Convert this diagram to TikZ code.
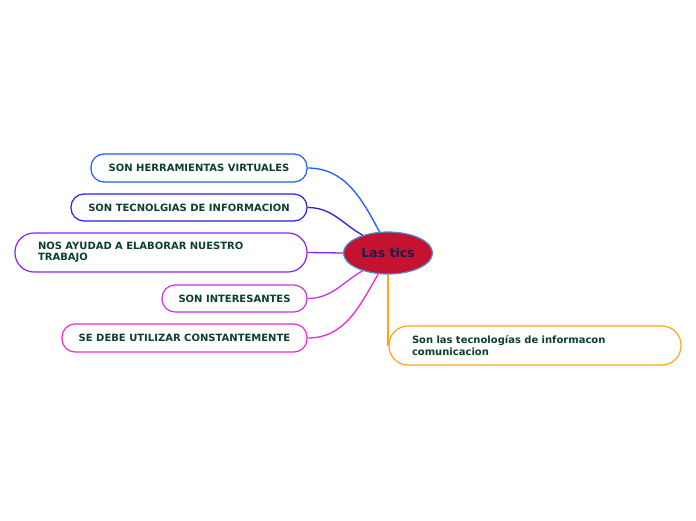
\documentclass[tikz,border=0pt]{standalone}
\usepackage{fontspec}
\setmainfont{DejaVu Sans}
\usetikzlibrary{shapes.geometric}
\definecolor{ramaA}{HTML}{1F5CFF}
\definecolor{ramaB}{HTML}{2D1EE0}
\definecolor{ramaC}{HTML}{8A22F0}
\definecolor{ramaD}{HTML}{CC30EE}
\definecolor{ramaE}{HTML}{F526CC}
\definecolor{ramaF}{HTML}{FFA514}
\definecolor{textoverde}{HTML}{0B4030}
\definecolor{rojotics}{HTML}{C41230}
\definecolor{bordetics}{HTML}{4A90C8}
\definecolor{azultics}{HTML}{1A1F4A}
\begin{document}
\begin{tikzpicture}[x=1pt,y=-1pt,
    caja/.style={rectangle, draw, line width=1.2pt, rounded corners=13pt, fill=white,
        text=textoverde, font=\bfseries\fontsize{10}{11.5}\selectfont, inner sep=0pt},
    cajalarga/.style={caja, rounded corners=19pt, minimum width=292pt, minimum height=39pt,
        text width=246pt, align=left},
    rama/.style={line width=1.3pt}]
    \useasboundingbox (0,0) rectangle (696,520);

    % las tics
    \node (tics) at (388,253) [ellipse, draw=bordetics, line width=1.2pt, fill=rojotics,
        minimum width=89pt, minimum height=42pt, inner sep=0pt, text=azultics,
        font=\bfseries\fontsize{12.5}{14}\selectfont] {Las tics};

    % ramas de la izquierda
    \node (herr) at (199,168) [caja, draw=ramaA, minimum width=216pt, minimum height=28pt] {SON HERRAMIENTAS VIRTUALES};
    \node (tecn) at (189,207.5) [caja, draw=ramaB, minimum width=236pt, minimum height=27pt] {SON TECNOLGIAS DE INFORMACION};
    \node (ayud) at (161,252.5) [cajalarga, draw=ramaC] {NOS AYUDAD A ELABORAR NUESTRO\\TRABAJO};
    \node (inte) at (234.5,298.5) [caja, draw=ramaD, minimum width=145pt, minimum height=27pt] {SON INTERESANTES};
    \node (cons) at (184.5,338) [caja, draw=ramaE, minimum width=245pt, minimum height=28pt] {SE DEBE UTILIZAR CONSTANTEMENTE};

    % rama de la derecha
    \node (tecno) at (535,345.5) [cajalarga, draw=ramaF] {Son las tecnologías de informacon\\comunicacion};

    \draw[rama, ramaA] (tics.112) to[out=118,in=0] (herr.east); % herramientas
    \draw[rama, ramaB] (tics.145) to[out=150,in=0] (tecn.east); % tecnologias
    \draw[rama, ramaC] (tics.west) -- (ayud.east); % nos ayuda
    \draw[rama, ramaD] (tics.215) to[out=210,in=0] (inte.east); % interesantes
    \draw[rama, ramaE] (tics.245) to[out=240,in=0] (cons.east); % constantemente
    \draw[rama, ramaF] (tics.south) -- (tics.south |- tecno.west) -- (tecno.west); % definicion
\end{tikzpicture}
\end{document}
